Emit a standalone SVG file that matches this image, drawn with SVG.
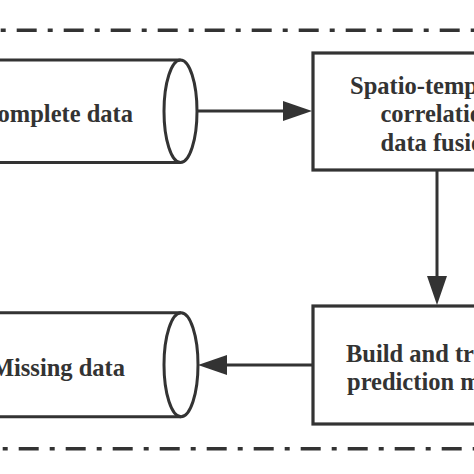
<svg xmlns="http://www.w3.org/2000/svg" width="474" height="474" viewBox="0 0 474 474">
<style>
.ln{stroke:#333;stroke-width:3;fill:none}
.bx{stroke:#333;stroke-width:3.2;fill:#fff}
.dd{stroke:#333;stroke-width:3.5;stroke-dasharray:20 11 5 11;fill:none}
.t{font-family:"Liberation Serif","Times New Roman",serif;font-weight:bold;font-size:24.5px;fill:#333}
.ah{fill:#333}
</style>
<rect width="474" height="474" fill="#fff"/>
<line class="dd" x1="-30.3" y1="30.3" x2="480" y2="30.3"/>
<line class="dd" x1="-28.3" y1="448.7" x2="480" y2="448.7"/>
<g id="complete-data">
<path class="ln" d="M-30 60 H180.5 M-30 162.6 H180.5" />
<ellipse class="ln" cx="180.5" cy="111.3" rx="16.5" ry="51.3" fill="#fff"/>
<text class="t" x="133" y="121.5" text-anchor="end">Complete data</text>
</g>
<g id="fusion">
<rect class="bx" x="313" y="53" width="260" height="117"/>
<text class="t" x="350" y="93.5">Spatio-temporal</text>
<text class="t" x="380.5" y="122">correlation</text>
<text class="t" x="380.5" y="150.5">data fusion</text>
</g>
<g id="model">
<rect class="bx" x="313" y="306" width="260" height="118"/>
<text class="t" x="346" y="361.5">Build and train a</text>
<text class="t" x="347" y="390">prediction model</text>
</g>
<g id="missing-data">
<path class="ln" d="M-30 312.7 H181 M-30 416.7 H181" />
<ellipse class="ln" cx="181" cy="364.7" rx="17" ry="52" fill="#fff"/>
<text class="t" x="125" y="375.5" text-anchor="end">Missing data</text>
</g>
<g id="connectors">
<line class="ln" x1="197" y1="111" x2="285" y2="111"/>
<polygon class="ah" points="283,101 312,111 283,121"/>
<line class="ln" x1="437" y1="170" x2="437" y2="278"/>
<polygon class="ah" points="427,276 447,276 437,305"/>
<line class="ln" x1="312" y1="365" x2="225" y2="365"/>
<polygon class="ah" points="227,355 227,375 198,365"/>
</g>
</svg>
